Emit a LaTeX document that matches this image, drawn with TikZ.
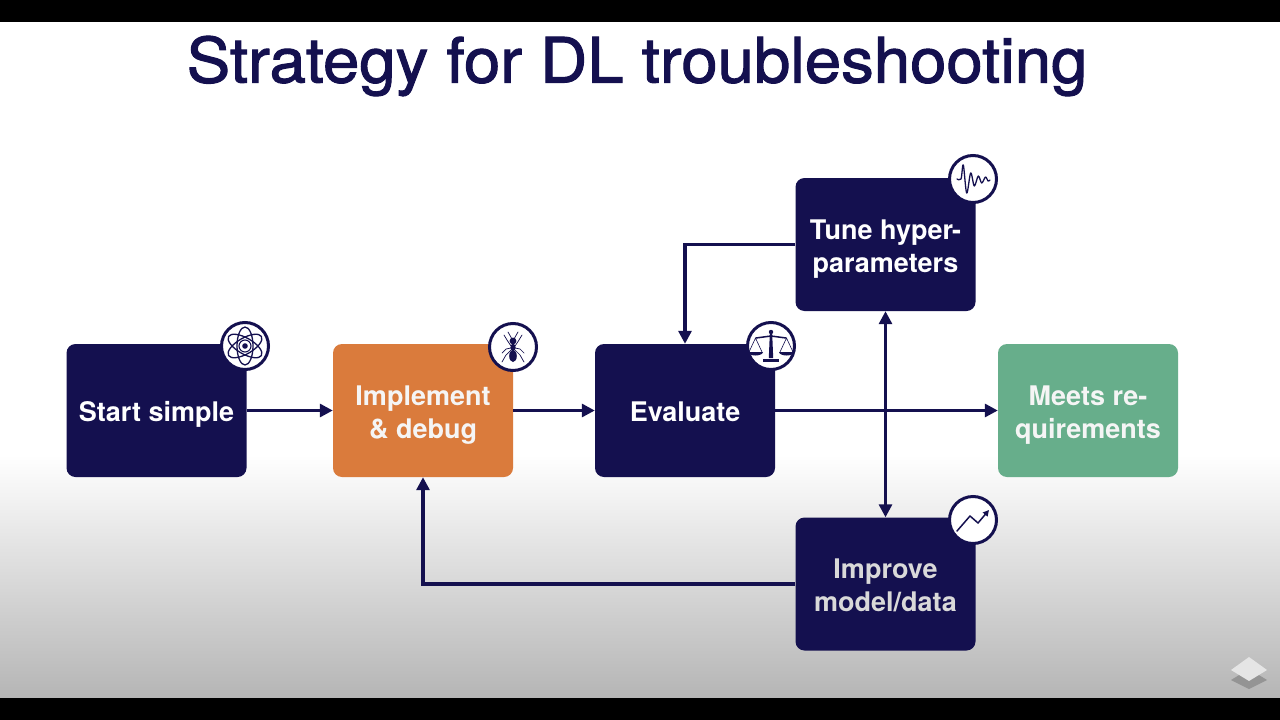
\documentclass[tikz,border=0pt]{standalone}
\usepackage{fontspec}
\setmainfont{TeX Gyre Heros}
\newfontfamily\titlefont[FakeBold=1.6,FakeStretch=1.045]{TeX Gyre Heros}
\usetikzlibrary{arrows.meta,calc}
\definecolor{navy}{HTML}{14104F}
\definecolor{orangebox}{HTML}{DA7B3C}
\definecolor{greenbox}{HTML}{67AE8B}
\tikzset{
  x=1pt,y=-1pt,
  box/.style={rounded corners=9pt,minimum width=180pt,minimum height=133pt,inner sep=0pt,text=white,align=center,text depth=0pt,font=\fontsize{27}{33}\selectfont\bfseries},
  conn/.style={draw=navy,line width=3.1pt,-{Triangle[length=13pt,width=13pt]}},
  badge/.style={circle,draw=navy,fill=white,line width=3pt,minimum size=47pt,inner sep=0pt},
  ico/.style={draw=navy,line width=1pt,line join=round,line cap=round},
  title/.style={font=\fontsize{62.5}{65}\selectfont\titlefont,text=navy,inner sep=0pt},
}
\newcommand{\lft}{\rule{0pt}{22pt}}
\begin{document}
\begin{tikzpicture}
\useasboundingbox (0,0) rectangle (1280,720);
\fill[white] (0,0) rectangle (1280,720);
\shade[top color=white,bottom color=black!29] (0,455) rectangle (1280,698);
\fill[black] (0,0) rectangle (1280,22);
\fill[black] (0,698) rectangle (1280,720);
\node[title] (ttl) at (637,66) {Strategy for DL troubleshooting};

\node[box,fill=navy] (start) at (156.5,410.5) {\lft Start simple};
\node[box,fill=orangebox,text=white!96!black] (impl) at (423,410.5) {\lft Implement\\\& debug};
\node[box,fill=navy] (eval) at (685,410.5) {\lft Evaluate};
\node[box,fill=navy] (tune) at (885.5,244.5) {\lft Tune hyper-\\parameters};
\node[box,fill=navy,text=black!15] (impr) at (885.5,584) {\lft Improve\\model/data};
\node[box,fill=greenbox,text=white!96!black] (meets) at (1088,410.5) {\lft Meets re-\\quirements};

\draw[conn] (start) -- (impl);
\draw[conn] (impl) -- (eval);
\draw[conn] (eval) -- (meets);
\draw[conn] (tune.west) -| (eval.north);
\draw[conn] (impr.west) -| (impl.south);
\draw[conn,{Triangle[length=13pt,width=13pt]}-{Triangle[length=13pt,width=13pt]}] (tune) -- (impr);

\node[badge] (b1) at (245,346) {};
\node[badge] (b2) at (513,347) {};
\node[badge] (b3) at (771,346) {};
\node[badge] (b4) at (973,179) {};
\node[badge] (b5) at (973,520) {};

% atom
\begin{scope}[shift={(b1.center)}]
\foreach \a in {30,90,150}
  \draw[ico,line width=1.3pt,rotate=\a] (0,0) ellipse [x radius=19pt,y radius=8pt];
\fill[navy] (0,0) circle (2.8pt);
\draw[ico,line width=1.1pt] (0,0) circle (6pt);
\end{scope}

% ant
\begin{scope}[shift={(b2.center)}]
\fill[navy] (0,-6) circle (3.4pt);
\fill[navy] (0,0.5) ellipse [x radius=2.6pt,y radius=3.8pt];
\fill[navy] (0,9) ellipse [x radius=3.8pt,y radius=6pt];
\draw[ico,line width=.7pt] (-1,-8) -- (-5,-15);
\draw[ico,line width=.7pt] (1,-8) -- (5,-15);
\draw[ico,line width=.7pt] (-2,-1) -- (-6,-7) -- (-9,-12);
\draw[ico,line width=.7pt] (2,-1) -- (6,-7) -- (9,-12);
\draw[ico,line width=.7pt] (-2,1) -- (-7,2) -- (-11,6);
\draw[ico,line width=.7pt] (2,1) -- (7,2) -- (11,6);
\draw[ico,line width=.7pt] (-2,3) -- (-7,8) -- (-11,15);
\draw[ico,line width=.7pt] (2,3) -- (7,8) -- (11,15);
\end{scope}

% scales
\begin{scope}[shift={(b3.center)}]
\fill[navy] (-1.2,-12) -- (1.2,-12) -- (2.2,12) -- (-2.2,12) -- cycle;
\fill[navy] (0,-14) circle (2.2pt);
\fill[navy] (-8,12.5) rectangle (8,15.5);
\draw[ico,line width=1.5pt] (-15,-8) -- (0,-10) -- (15,-8);
\draw[ico,line width=.6pt] (-22,6) -- (-15.5,-8) -- (-9,6);
\draw[ico,line width=.6pt] (22,6) -- (15.5,-8) -- (9,6);
\fill[navy] (-23,6) arc [start angle=180,end angle=360,x radius=7.5pt,y radius=3.5pt] -- cycle;
\fill[navy] (8,6) arc [start angle=180,end angle=360,x radius=7.5pt,y radius=3.5pt] -- cycle;
\end{scope}

% wave
\begin{scope}[shift={(b4.center)}]
\draw[ico,line width=1.3pt] plot[smooth,tension=.55] coordinates {(-16,0) (-12,0) (-9.7,-14) (-6.3,14) (-2.3,-6) (1.3,7) (5.3,-3) (8.7,4) (12.5,-2) (15,2) (17,1)};
\end{scope}

% chart
\begin{scope}[shift={(b5.center)}]
\draw[ico,line width=1.5pt,-{Triangle[length=6pt,width=6pt]}] (-16,11) -- (-3,-4) -- (5,3) -- (16,-10);
\end{scope}

% logo
\fill[black!42] (1249,669) -- (1267,680) -- (1249,689) -- (1231,680) -- cycle;
\fill[white!90!black] (1249,657) -- (1267,670) -- (1249,681) -- (1231,670) -- cycle;
\end{tikzpicture}
\end{document}
